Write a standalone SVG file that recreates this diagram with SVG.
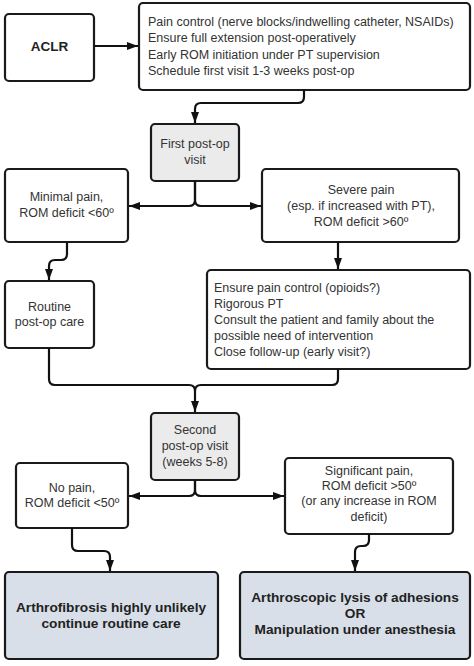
<svg xmlns="http://www.w3.org/2000/svg" width="474" height="666" viewBox="0 0 474 666">
<defs>
<marker id="arr" markerUnits="userSpaceOnUse" markerWidth="11" markerHeight="11" viewBox="0 0 11 11" refX="11" refY="5.5" orient="auto">
<path d="M0,1.5 L11,5.5 L0,9.5 Z" fill="#111"/>
</marker>
</defs>
<style>
.box{fill:#fff;stroke:#1a1a1a;stroke-width:2.2}
.grey{fill:#ebebeb}
.blue{fill:#d8dfe8}
.t{font-family:"Liberation Sans",Arial,sans-serif;font-size:12.5px;fill:#333}
.c{text-anchor:middle}
.b{font-weight:bold;fill:#222;font-size:13.7px}
.conn path{fill:none;stroke:#111;stroke-width:2.2;marker-end:url(#arr)}
</style>
<rect width="474" height="666" fill="#fff"/>
<g id="aclr">
<rect class="box" x="5" y="14" width="89" height="67" rx="4"/>
<text class="t c b" x="49.5" y="51" style="font-size:13.5px">ACLR</text>
</g>
<g id="postop-plan">
<rect class="box" x="139" y="3" width="331" height="87" rx="4"/>
<text class="t" x="148" y="25.5">Pain control (nerve blocks/indwelling catheter, NSAIDs)</text>
<text class="t" x="148" y="42">Ensure full extension post-operatively</text>
<text class="t" x="148" y="58.5">Early ROM initiation under PT supervision</text>
<text class="t" x="148" y="75">Schedule first visit 1-3 weeks post-op</text>
</g>
<g id="first-visit">
<rect class="box grey" x="151" y="124" width="88" height="57" rx="4"/>
<text class="t c" x="195" y="147.5">First post-op</text>
<text class="t c" x="195" y="163.5">visit</text>
</g>
<g id="minimal-pain">
<rect class="box" x="5" y="169" width="123" height="73" rx="4"/>
<text class="t c" x="66.5" y="200.5">Minimal pain,</text>
<text class="t c" x="66.5" y="216.5">ROM deficit &lt;60º</text>
</g>
<g id="severe-pain">
<rect class="box" x="262" y="169" width="197" height="73" rx="4"/>
<text class="t c" x="361" y="193.5">Severe pain</text>
<text class="t c" x="361" y="209.5">(esp. if increased with PT),</text>
<text class="t c" x="361" y="225.5">ROM deficit &gt;60º</text>
</g>
<g id="routine">
<rect class="box" x="5" y="281" width="89" height="67" rx="4"/>
<text class="t c" x="49.5" y="310.5">Routine</text>
<text class="t c" x="49.5" y="325.5">post-op care</text>
</g>
<g id="ensure">
<rect class="box" x="207" y="270" width="263" height="99" rx="4"/>
<text class="t" x="214" y="291.5">Ensure pain control (opioids?)</text>
<text class="t" x="214" y="307.5">Rigorous PT</text>
<text class="t" x="214" y="323.5">Consult the patient and family about the</text>
<text class="t" x="214" y="339.5">possible need of intervention</text>
<text class="t" x="214" y="356">Close follow-up (early visit?)</text>
</g>
<g id="second-visit">
<rect class="box grey" x="151" y="413" width="88" height="67" rx="4"/>
<text class="t c" x="195" y="433.5">Second</text>
<text class="t c" x="195" y="449.5">post-op visit</text>
<text class="t c" x="195" y="465.5">(weeks 5-8)</text>
</g>
<g id="no-pain">
<rect class="box" x="16" y="463" width="112" height="65" rx="4"/>
<text class="t c" x="72" y="491.5">No pain,</text>
<text class="t c" x="72" y="506.5">ROM deficit &lt;50º</text>
</g>
<g id="significant-pain">
<rect class="box" x="285" y="458" width="168" height="76" rx="4"/>
<text class="t c" x="369" y="474.5">Significant pain,</text>
<text class="t c" x="369" y="489.5">ROM deficit &gt;50º</text>
<text class="t c" x="369" y="504.5">(or any increase in ROM</text>
<text class="t c" x="369" y="520.5">deficit)</text>
</g>
<g id="unlikely">
<rect class="box blue" x="5" y="572" width="213" height="87" rx="4"/>
<text class="t c b" x="111" y="612">Arthrofibrosis highly unlikely</text>
<text class="t c b" x="111" y="628">continue routine care</text>
</g>
<g id="lysis">
<rect class="box blue" x="240" y="572" width="230" height="87" rx="4"/>
<text class="t c b" x="355" y="602">Arthroscopic lysis of adhesions</text>
<text class="t c b" x="355" y="618">OR</text>
<text class="t c b" x="355" y="634">Manipulation under anesthesia</text>
</g>
<g id="connectors" class="conn">
<path d="M94,46 H138"/>
<path d="M304,90 V97 Q304,103 298,103 H201 Q195,103 195,109 V123"/>
<path d="M195,181 V200 Q195,206 189,206 H129"/>
<path d="M195,181 V200 Q195,206 201,206 H261"/>
<path d="M67,242 V254 Q67,260 61,260 H55 Q49,260 49,266 V280"/>
<path d="M338,242 V269"/>
<path d="M49,348 V379 Q49,385 55,385 H189 Q195,385 195,391 V412"/>
<path d="M338,369 V379 Q338,385 332,385 H201 Q195,385 195,391" style="marker-end:none"/>
<path d="M195,480 V490 Q195,496 189,496 H129"/>
<path d="M195,480 V490 Q195,496 201,496 H284"/>
<path d="M72,528 V545 Q72,551 78,551 H104 Q110,551 110,557 V571"/>
<path d="M369,534 V540 Q369,546 363,546 H361 Q355,546 355,552 V571"/>
</g>
</svg>
